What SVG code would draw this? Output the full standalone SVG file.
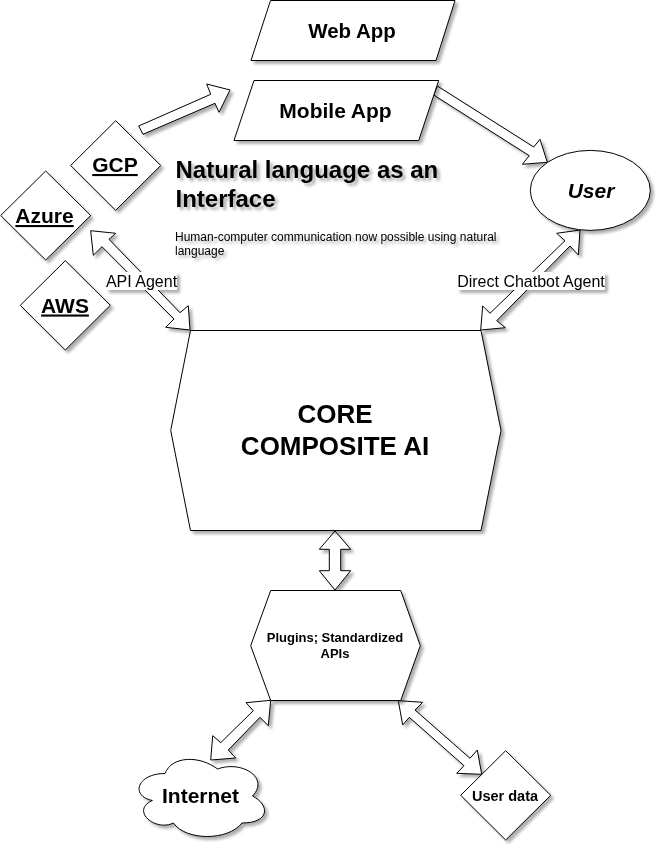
<svg xmlns="http://www.w3.org/2000/svg" width="662" height="852" viewBox="0 0 662 852">
<style>
text{font-family:"Liberation Sans",Arial,sans-serif;fill:#000;text-anchor:middle}
.s{fill:#fff;stroke:#000;stroke-width:1;stroke-linejoin:miter;stroke-miterlimit:10}
.b{font-weight:bold}
.n{filter:url(#sh)}
.t20{font-size:21px;font-weight:bold}
.u{text-decoration:underline}
.lab{font-size:16px}
.lb{fill:#fff}
</style>
<defs>
<filter id="sh" x="-20%" y="-20%" width="150%" height="150%">
<feGaussianBlur in="SourceAlpha" stdDeviation="1.5"/>
<feOffset dx="3" dy="3"/>
<feComponentTransfer><feFuncA type="linear" slope="0.32"/></feComponentTransfer>
<feMerge><feMergeNode/><feMergeNode in="SourceGraphic"/></feMerge>
</filter>
</defs>
<rect width="662" height="852" fill="#fff"/>
<g id="connectors" class="n">
<polygon class="s" points="138.7,126 143,134.3 215,103.3 219,112.3 230,90 206.7,84 210.7,94.3"/>
<polygon class="s" points="437.3,86 533.7,147 540,139.3 547.3,162.3 522.3,164.3 529.3,155.7 433.7,95"/>
<polygon class="s" points="90.7,230.7 115.7,233.3 109,239.3 180,312.7 188.3,305.7 190,330 165.7,327.3 174,319 102,246.7 93.3,255.3"/>
<polygon class="s" points="580,230 556.7,233.3 565,240.7 490,313.3 482.7,306 480.7,330 505.3,327.7 496.7,320.7 570,246 578.3,255"/>
<polygon class="s" points="335,531 350.7,549.3 340.7,549.3 340.7,570.7 350.7,570.7 335,590 319.3,570.7 329.3,570.7 329.3,549.3 319.3,549.3"/>
<polygon class="s" points="270.7,700.3 246,702.7 253.3,710.7 220.7,742.7 212.7,735.7 210.7,760 235.7,758 228.3,750 260,717.3 268.3,725.7"/>
<polygon class="s" points="398.3,700.7 422.7,702.3 415,710 470,758.3 477.3,750 481.7,774.3 456.7,773.3 464,765.7 409.3,717.3 402.7,725"/>
<g id="label-api">
<rect class="lb" x="106" y="272" width="71" height="18"/>
<text class="lab" x="141.5" y="286.500">API Agent</text>
</g>
<g id="label-chatbot">
<rect class="lb" x="457" y="272" width="148" height="18"/>
<text class="lab" x="531" y="286.500">Direct Chatbot Agent</text>
</g>
</g>
<g id="web-app" class="n">
<polygon class="s" points="270.500,0.500 455,0.500 436,60.500 251,60.500"/>
<text class="b" font-size="20.5" x="352" y="37.500">Web App</text>
</g>
<g id="mobile-app" class="n">
<polygon class="s" points="254,80.500 438.700,80.500 418.700,140.500 234,140.500"/>
<text class="t20" x="335.500" y="118">Mobile App</text>
</g>
<g id="gcp" class="n">
<polygon class="s" points="115.700,120.700 160.700,165.500 115.700,210.300 70.700,165.500"/>
<text class="t20 u" x="115" y="172">GCP</text>
</g>
<g id="azure" class="n">
<polygon class="s" points="45.700,171 90.700,215.500 45.700,260 0.700,215.500"/>
<text class="t20 u" x="44.500" y="223">Azure</text>
</g>
<g id="aws" class="n">
<polygon class="s" points="65.300,260.700 110.300,305.300 65.300,350 20.300,305.300"/>
<text class="t20 u" x="65" y="312.500">AWS</text>
</g>
<g id="user" class="n">
<ellipse class="s" cx="590.300" cy="190.400" rx="60" ry="40"/>
<text class="t20" font-style="italic" x="591" y="197.500">User</text>
</g>
<g id="heading" class="n">
<text class="b" font-size="24" style="text-anchor:start" x="175.500" y="178">Natural language as an</text>
<text class="b" font-size="24" style="text-anchor:start" x="175.500" y="207">Interface</text>
<text font-size="12" style="text-anchor:start" x="175" y="241">Human-computer communication now possible using natural</text>
<text font-size="12" style="text-anchor:start" x="175" y="255">language</text>
</g>
<g id="core" class="n">
<polygon class="s" points="190.500,330.500 481,330.500 501,430.500 481,530.500 190.500,530.500 170.700,430.500"/>
<text class="b" font-size="26" x="335" y="423">CORE</text>
<text class="b" font-size="26" x="335" y="455">COMPOSITE AI</text>
</g>
<g id="plugins" class="n">
<polygon class="s" points="270.700,590.500 400.700,590.500 420.300,645.700 400.700,700.500 270.700,700.500 250.700,645.700"/>
<text class="b" font-size="13" x="335" y="642">Plugins; Standardized</text>
<text class="b" font-size="13" x="335" y="658">APIs</text>
</g>
<g id="internet" class="n">
<path class="s" d="M165 773.500C137 773.500 130 796 152.400 800.500C130 810.400 155.200 832 173.400 823C186 841 228 841 242 823C270 823 270 805 252.500 796C270 778 242 760 217.500 769C200 755.500 172 755.500 165 773.500Z"/>
<text class="t20" x="200.500" y="803">Internet</text>
</g>
<g id="user-data" class="n">
<polygon class="s" points="505.700,750.700 550.700,795.300 505.700,840 460.700,795.300"/>
<text class="b" font-size="14.500" x="505" y="800.500">User data</text>
</g>
</svg>
